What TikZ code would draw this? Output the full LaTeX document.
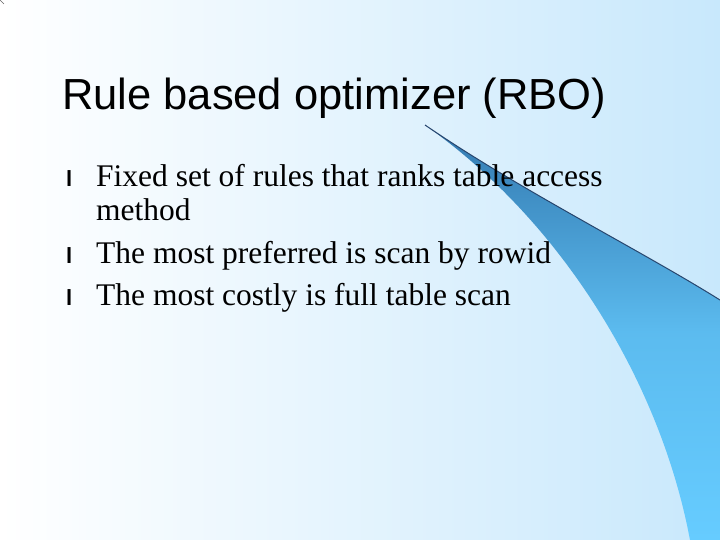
\documentclass[tikz,border=0pt]{standalone}
\usepackage{fontspec}
\setmainfont{Liberation Serif}
\newfontfamily\arial{Liberation Sans}
\definecolor{bgr}{RGB}{200,232,252}
\definecolor{swtop}{RGB}{50,120,175}
\definecolor{swbot}{RGB}{102,204,255}
\definecolor{swline}{RGB}{40,70,110}
\begin{document}
\begin{tikzpicture}[x=1pt,y=-1pt,
  bul/.style={anchor=base west,inner sep=0,font=\fontsize{31.5}{33}\selectfont}]
\useasboundingbox (0,0) rectangle (720,540);
\shade[left color=white,right color=bgr] (0,0) rectangle (720,540);
\shade[top color=swtop, bottom color=swbot, middle color=swbot!80!swtop]
  (425,125) .. controls (520,190) and (640,250) .. (720,300)
  -- (720,540) -- (690,540)
  .. controls (660,380) and (560,220) .. (425,125) -- cycle;
\draw[swline, line width=1pt] (425,125) .. controls (520,190) and (640,250) .. (720,300);
\draw[black!60] (0,0) -- (4,4);
\node[anchor=base west,inner sep=0,font=\arial\fontsize{43.5}{46}\selectfont] (t) at (62,110) {Rule based optimizer (RBO)};
\node[bul,font=\bfseries\arial\fontsize{22}{24}\selectfont] (b1) at (66,187) {l};
\node[bul] (t1) at (96,187) {Fixed set of rules that ranks table access};
\node[bul] (t1b) at (96,221) {method};
\node[bul,font=\bfseries\arial\fontsize{22}{24}\selectfont] (b2) at (66,263) {l};
\node[bul] (t2) at (96,263) {The most preferred is scan by rowid};
\node[bul,font=\bfseries\arial\fontsize{22}{24}\selectfont] (b3) at (66,305) {l};
\node[bul] (t3) at (96,305) {The most costly is full table scan};
\end{tikzpicture}
\end{document}
